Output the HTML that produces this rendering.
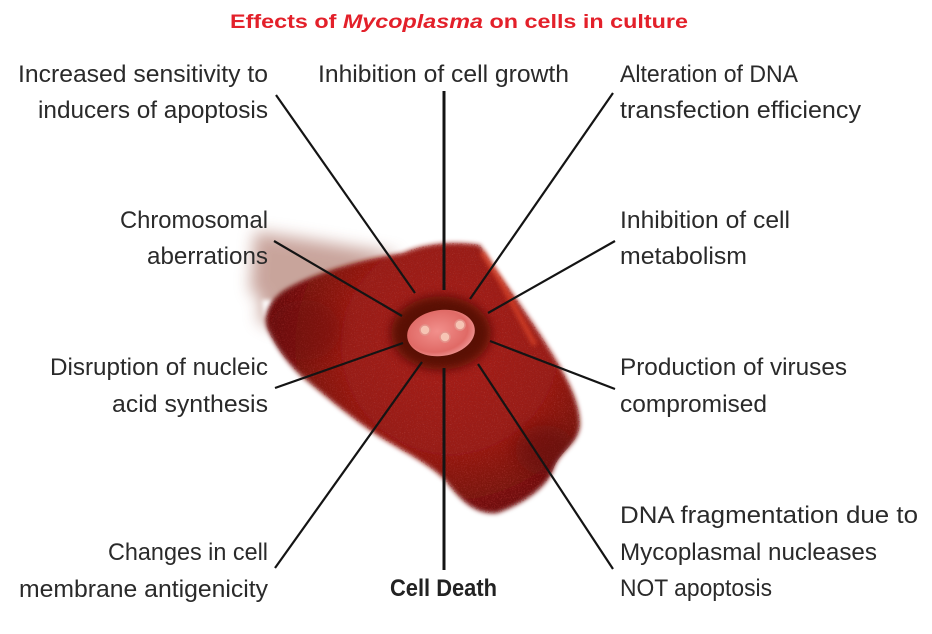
<!DOCTYPE html>
<html>
<head>
<meta charset="utf-8">
<style>
  html,body{margin:0;padding:0;background:#fff;}
  svg{display:block;}
  .t{font-family:"Liberation Sans",sans-serif;font-size:24px;fill:#2a2a2a;}
</style>
</head>
<body>
<svg width="932" height="634" viewBox="0 0 932 634" xmlns="http://www.w3.org/2000/svg">
  <defs>
    <filter id="b3" x="-20%" y="-20%" width="140%" height="140%"><feGaussianBlur stdDeviation="2.5"/></filter>
    <filter id="b8" x="-50%" y="-50%" width="200%" height="200%"><feGaussianBlur stdDeviation="8"/></filter>
    <filter id="b5" x="-50%" y="-50%" width="200%" height="200%"><feGaussianBlur stdDeviation="5"/></filter>
    <filter id="b2" x="-50%" y="-50%" width="200%" height="200%"><feGaussianBlur stdDeviation="2"/></filter>
    <filter id="noiseDark" x="0" y="0" width="100%" height="100%">
      <feTurbulence type="fractalNoise" baseFrequency="0.7" numOctaves="2" seed="3" result="n"/>
      <feColorMatrix in="n" type="matrix" values="0 0 0 0 0.32  0 0 0 0 0.02  0 0 0 0 0.02  3 0 0 0 -1.35"/>
    </filter>
    <filter id="noiseLight" x="0" y="0" width="100%" height="100%">
      <feTurbulence type="fractalNoise" baseFrequency="0.9" numOctaves="1" seed="11" result="n"/>
      <feColorMatrix in="n" type="matrix" values="0 0 0 0 0.85  0 0 0 0 0.25  0 0 0 0 0.2  0 3 0 0 -1.75"/>
    </filter>
    <radialGradient id="body" cx="450" cy="345" r="175" gradientUnits="userSpaceOnUse">
      <stop offset="0" stop-color="#a81f16"/>
      <stop offset="0.6" stop-color="#981a12"/>
      <stop offset="1" stop-color="#6a0e0a"/>
    </radialGradient>
    <radialGradient id="nuc" cx="0.45" cy="0.45" r="0.6">
      <stop offset="0" stop-color="#f2908c"/>
      <stop offset="0.75" stop-color="#e06a66"/>
      <stop offset="1" stop-color="#f09a98"/>
    </radialGradient>
    <clipPath id="cellclip">
      <path d="M403,253 C420,245 450,240 480,245 L497,272 C510,290 535,325 550,350 C565,375 580,400 580,425 C578,445 560,450 553,470 C545,490 520,505 497,513 C475,515 460,500 445,480 C430,465 410,455 385,440 C360,425 330,400 300,375 C285,360 275,345 268,330 C262,315 270,300 285,290 C320,270 370,258 403,253 Z"/>
    </clipPath>
  </defs>

  <rect width="932" height="634" fill="#fff"/>

  <!-- Title -->
  <text x="230" y="28" font-family="Liberation Sans, sans-serif" font-size="19" font-weight="bold" fill="#e3202a" textLength="458" lengthAdjust="spacingAndGlyphs">Effects of <tspan font-style="italic">Mycoplasma</tspan> on cells in culture</text>

  <!-- Faded wisps -->
  <path d="M255,232 C290,236 340,245 400,255 L330,290 L280,330 L258,320 L262,300 L250,290 Z" fill="#9c5a4c" opacity="0.55" filter="url(#b8)"/>
  <path d="M262,300 L272,300 L276,315 L264,318 Z" fill="#fff" filter="url(#b2)"/>

  <!-- Cell body -->
  <path d="M403,253 C420,245 450,240 480,245 L497,272 C510,290 535,325 550,350 C565,375 580,400 580,425 C578,445 560,450 553,470 C545,490 520,505 497,513 C475,515 460,500 445,480 C430,465 410,455 385,440 C360,425 330,400 300,375 C285,360 275,345 268,330 C262,315 270,300 285,290 C320,270 370,258 403,253 Z" fill="url(#body)" filter="url(#b3)"/>
  <!-- texture -->
  <g clip-path="url(#cellclip)">
    <rect x="240" y="230" width="360" height="300" filter="url(#noiseDark)" opacity="0.6"/>
    <rect x="240" y="230" width="360" height="300" filter="url(#noiseLight)" opacity="0.35"/>
    <ellipse cx="545" cy="450" rx="30" ry="25" fill="#5e0a07" opacity="0.5" filter="url(#b8)"/>
    <ellipse cx="305" cy="330" rx="35" ry="30" fill="#6e100b" opacity="0.4" filter="url(#b8)"/>
  </g>
  <!-- highlight streak -->
  <path d="M482,252 L500,280 L535,345" stroke="#e2492a" stroke-width="5" fill="none" opacity="0.7" filter="url(#b2)"/>

  <!-- nucleus halo -->
  <ellipse cx="441" cy="333" rx="50" ry="37" fill="#4e0706" opacity="0.85" filter="url(#b5)"/>
  <!-- nucleus -->
  <ellipse cx="441" cy="333" rx="34" ry="23" transform="rotate(-8 441 333)" fill="url(#nuc)"/>
  <circle cx="425" cy="330" r="5" fill="#f6c4b4" stroke="#e5928a" stroke-width="1.5"/>
  <circle cx="445" cy="337" r="5" fill="#f6c4b4" stroke="#e5928a" stroke-width="1.5"/>
  <circle cx="460" cy="325" r="5" fill="#f6c4b4" stroke="#e5928a" stroke-width="1.5"/>

  <!-- connector lines -->
  <g stroke="#141414" stroke-width="2.2" stroke-linecap="butt" fill="none">
    <line x1="276" y1="95" x2="415" y2="293"/>
    <line x1="613" y1="93" x2="470" y2="299"/>
    <line x1="615" y1="241" x2="488" y2="313"/>
    <line x1="274" y1="241" x2="402" y2="316"/>
    <line x1="275" y1="388" x2="403" y2="343"/>
    <line x1="615" y1="389" x2="490" y2="341"/>
    <line x1="275" y1="568" x2="422" y2="362"/>
    <line x1="613" y1="569" x2="478" y2="364"/>
  </g>
  <g stroke="#141414" stroke-width="3" fill="none">
    <line x1="444" y1="91" x2="444" y2="290"/>
    <line x1="444" y1="368" x2="444" y2="570"/>
  </g>

  <!-- Left labels -->
  <text class="t" x="18" y="82" textLength="250" lengthAdjust="spacingAndGlyphs">Increased sensitivity to</text>
  <text class="t" x="38" y="118" textLength="230" lengthAdjust="spacingAndGlyphs">inducers of apoptosis</text>
  <text class="t" x="120" y="228" textLength="148" lengthAdjust="spacingAndGlyphs">Chromosomal</text>
  <text class="t" x="147" y="264" textLength="121" lengthAdjust="spacingAndGlyphs">aberrations</text>
  <text class="t" x="50" y="375" textLength="218" lengthAdjust="spacingAndGlyphs">Disruption of nucleic</text>
  <text class="t" x="112" y="412" textLength="156" lengthAdjust="spacingAndGlyphs">acid synthesis</text>
  <text class="t" x="108" y="560" textLength="160" lengthAdjust="spacingAndGlyphs">Changes in cell</text>
  <text class="t" x="19" y="597" textLength="249" lengthAdjust="spacingAndGlyphs">membrane antigenicity</text>

  <!-- Middle labels -->
  <text class="t" x="318" y="82" textLength="251" lengthAdjust="spacingAndGlyphs">Inhibition of cell growth</text>
  <text class="t" x="390" y="596" font-weight="bold" textLength="107" lengthAdjust="spacingAndGlyphs" style="fill:#222">Cell Death</text>

  <!-- Right labels -->
  <text class="t" x="620" y="82" textLength="178" lengthAdjust="spacingAndGlyphs">Alteration of DNA</text>
  <text class="t" x="620" y="118" textLength="241" lengthAdjust="spacingAndGlyphs">transfection efficiency</text>
  <text class="t" x="620" y="228" textLength="170" lengthAdjust="spacingAndGlyphs">Inhibition of cell</text>
  <text class="t" x="620" y="264" textLength="127" lengthAdjust="spacingAndGlyphs">metabolism</text>
  <text class="t" x="620" y="375" textLength="227" lengthAdjust="spacingAndGlyphs">Production of viruses</text>
  <text class="t" x="620" y="412" textLength="147" lengthAdjust="spacingAndGlyphs">compromised</text>
  <text class="t" x="620" y="523" textLength="298" lengthAdjust="spacingAndGlyphs">DNA fragmentation due to</text>
  <text class="t" x="620" y="560" textLength="257" lengthAdjust="spacingAndGlyphs">Mycoplasmal nucleases</text>
  <text class="t" x="620" y="596" textLength="152" lengthAdjust="spacingAndGlyphs">NOT apoptosis</text>
</svg>
</body>
</html>
